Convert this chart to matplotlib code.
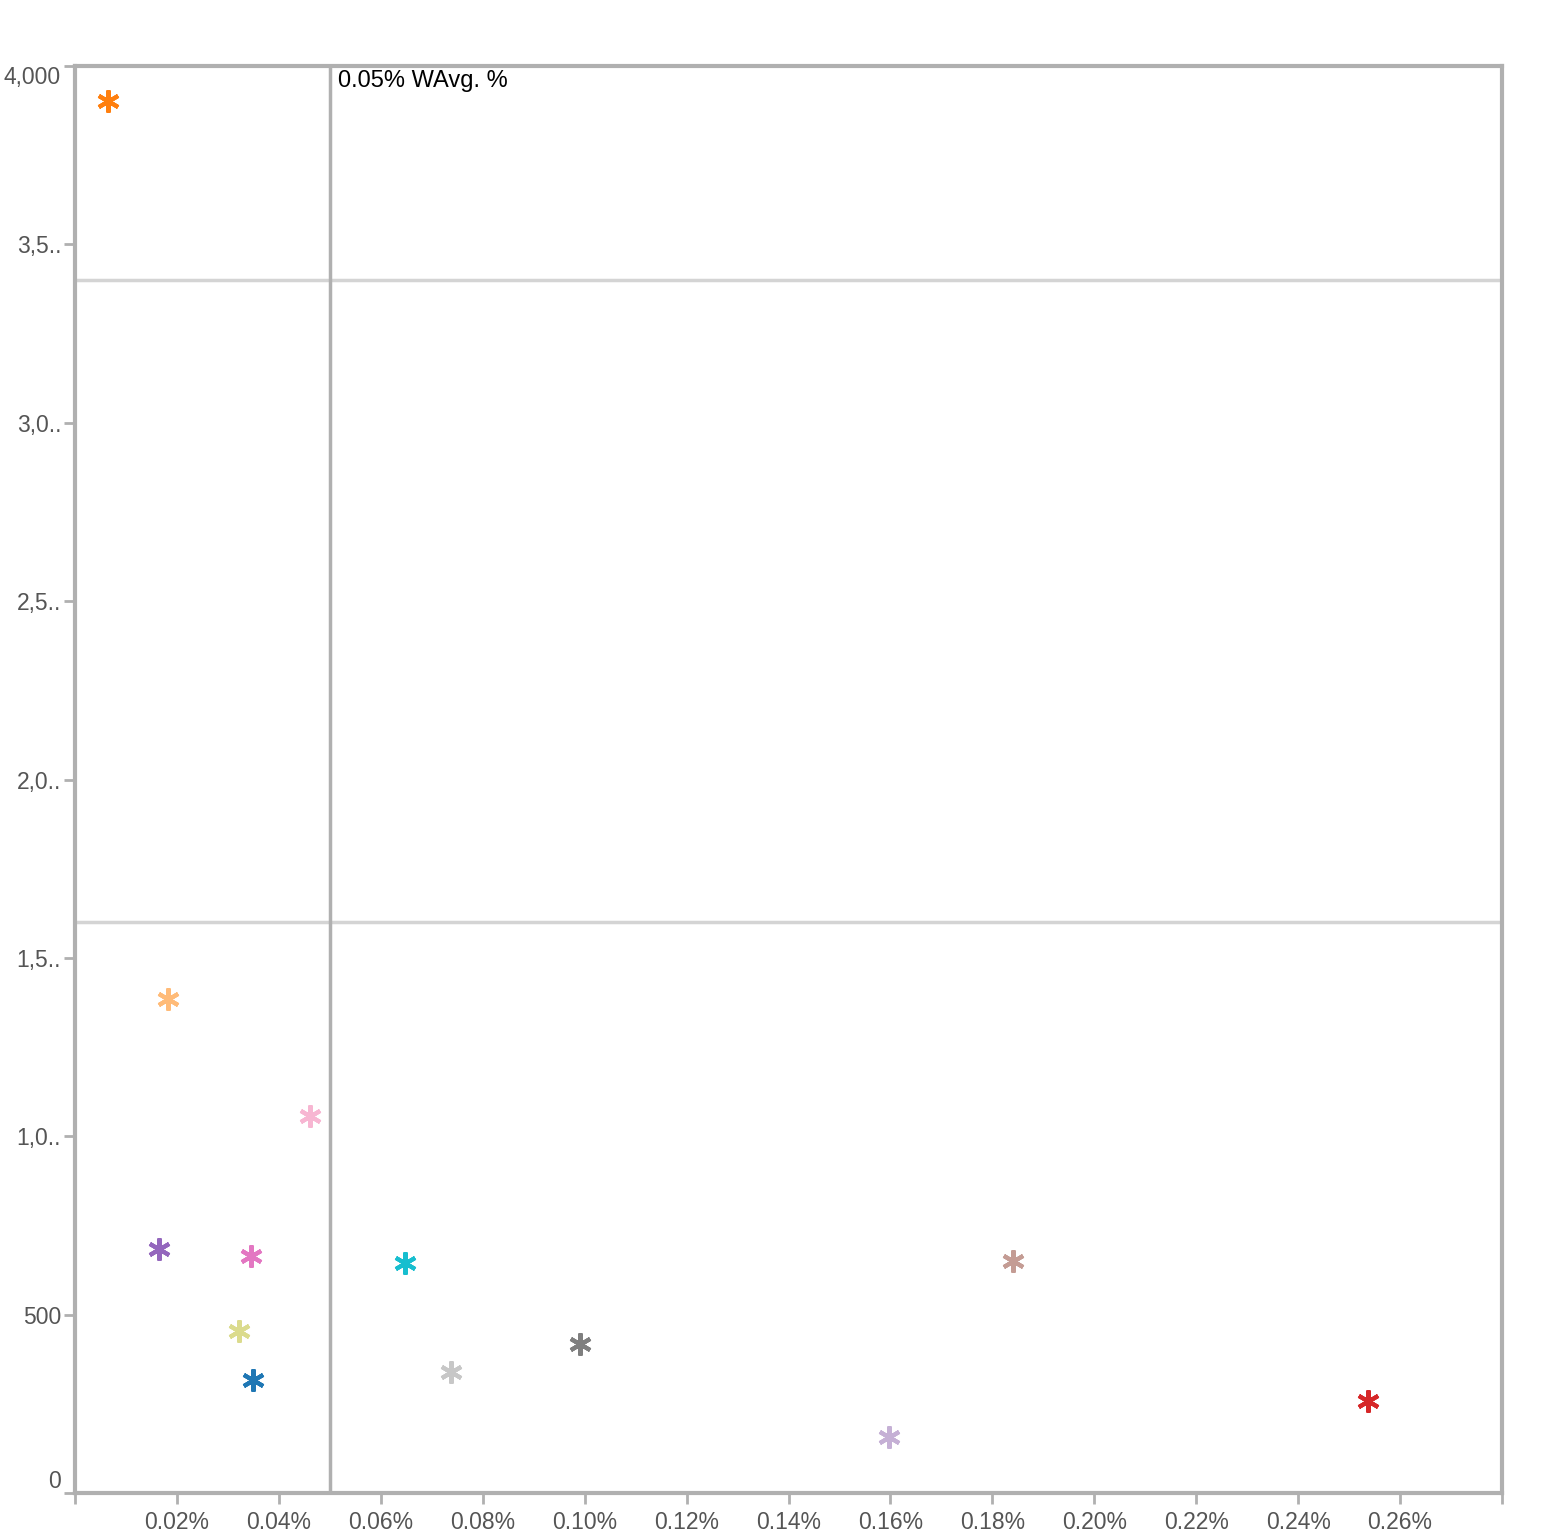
import matplotlib.pyplot as plt
from matplotlib.ticker import FuncFormatter

# data
share = [0.0000647, 0.000182, 0.000461, 0.000165, 0.000345, 0.000647,
         0.000322, 0.000349, 0.000737, 0.000990, 0.001598, 0.001841, 0.002537]
count = [3901, 1385, 1057, 684, 664, 645, 454, 317, 339, 418, 157, 650, 258]
colors = ["#ff7f0e", "#ffbb78", "#f7b6d2", "#9467bd", "#e377c2", "#17becf",
          "#dbdb8d", "#1f77b4", "#c7c7c7", "#7f7f7f", "#c5b0d5", "#c49c94", "#d62728"]

wavg_x = 0.0005
ref_lines_y = [1600, 3400]

y_ticks = [0, 500, 1000, 1500, 2000, 2500, 3000, 3500, 4000]
y_labels = ["0", "500", "1,0..", "1,5..", "2,0..", "2,5..", "3,0..", "3,5..", "4,000"]
x_ticks = [i * 0.0002 for i in range(15)]

plt.rcParams["font.family"] = ["Liberation Sans", "DejaVu Sans"]

fig = plt.figure(figsize=(15.54, 15.37), dpi=100)
ax = fig.add_axes([75 / 1554, 44 / 1537, 1427 / 1554, 1427 / 1537])

for yv in ref_lines_y:
    ax.axhline(yv, color="#d4d4d4", lw=2.5, zorder=1)
ax.axvline(wavg_x, color="#b0b0b0", lw=2.5, zorder=1)
ax.annotate("0.05% WAvg. %", (wavg_x, 4000), xytext=(6, -3),
            textcoords="offset points", fontsize=17, color="black",
            ha="left", va="top")

for xv, yv, c in zip(share, count, colors):
    ax.plot(xv, yv, marker=(6, 2, 0), markersize=16, mec=c, mew=3,
            linestyle="none", zorder=3)

ax.set_xlim(0, 0.0028)
ax.set_ylim(0, 4000)

ax.set_xticks(x_ticks)
ax.xaxis.set_major_formatter(FuncFormatter(
    lambda v, p: "" if v < 1e-9 or v > 0.00265 else f"{v * 100:.2f}%"))
ax.set_yticks(y_ticks)
ax.set_yticklabels(y_labels)
ylabs = ax.get_yticklabels()
ylabs[0].set_va("bottom")
ylabs[-1].set_va("top")

ax.tick_params(axis="both", colors="#b0b0b0", labelcolor="#555555",
               labelsize=16.5, length=8, width=2)
ax.tick_params(axis="x", pad=5)
ax.tick_params(axis="y", pad=2)

for s in ax.spines.values():
    s.set_color("#b0b0b0")
    s.set_linewidth(3)

fig.savefig("out.png", dpi=100)
